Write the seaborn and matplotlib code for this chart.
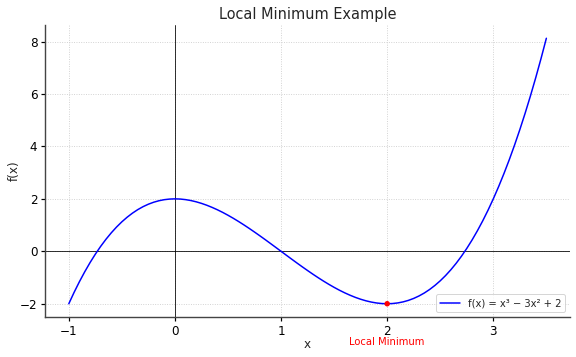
import matplotlib
matplotlib.use("Agg")
import matplotlib.pyplot as plt
import seaborn as sns
import pandas as pd

x_vals = [-1.0, -0.95, -0.9, -0.85, -0.8, -0.75, -0.7, -0.65, -0.6, -0.55,
          -0.5, -0.45, -0.4, -0.35, -0.3, -0.25, -0.2, -0.15, -0.1, -0.05,
          0.0, 0.05, 0.1, 0.15, 0.2, 0.25, 0.3, 0.35, 0.4, 0.45,
          0.5, 0.55, 0.6, 0.65, 0.7, 0.75, 0.8, 0.85, 0.9, 0.95,
          1.0, 1.05, 1.1, 1.15, 1.2, 1.25, 1.3, 1.35, 1.4, 1.45,
          1.5, 1.55, 1.6, 1.65, 1.7, 1.75, 1.8, 1.85, 1.9, 1.95,
          2.0, 2.05, 2.1, 2.15, 2.2, 2.25, 2.3, 2.35, 2.4, 2.45,
          2.5, 2.55, 2.6, 2.65, 2.7, 2.75, 2.8, 2.85, 2.9, 2.95,
          3.0, 3.05, 3.1, 3.15, 3.2, 3.25, 3.3, 3.35, 3.4, 3.45, 3.5]
y_vals = [-2.0, -1.565, -1.159, -0.782, -0.432, -0.109, 0.187, 0.458, 0.704, 0.926,
          1.125, 1.301, 1.456, 1.590, 1.703, 1.797, 1.872, 1.929, 1.969, 1.992,
          2.0, 1.993, 1.971, 1.936, 1.888, 1.828, 1.757, 1.675, 1.584, 1.484,
          1.375, 1.259, 1.136, 1.007, 0.873, 0.734, 0.592, 0.447, 0.299, 0.150,
          0.0, -0.150, -0.299, -0.447, -0.592, -0.734, -0.873, -1.007, -1.136, -1.259,
          -1.375, -1.484, -1.584, -1.675, -1.757, -1.828, -1.888, -1.936, -1.971, -1.993,
          -2.0, -1.992, -1.969, -1.929, -1.872, -1.797, -1.703, -1.590, -1.456, -1.301,
          -1.125, -0.926, -0.704, -0.458, -0.187, 0.109, 0.432, 0.782, 1.159, 1.565,
          2.0, 2.465, 2.961, 3.488, 4.048, 4.641, 5.267, 5.928, 6.624, 7.356, 8.125]
min_x = [2.0]
min_y = [-2.0]
curve_label = "f(x) = x³ − 3x² + 2"
min_label = "Local Minimum"

sns.set_theme(style="ticks")
plt.rcParams["font.family"] = ["DejaVu Sans"]

df = pd.DataFrame({"x": x_vals, "y": y_vals})
dmin = pd.DataFrame({"x": min_x, "y": min_y})

fig, ax = plt.subplots(figsize=(8, 357 / 72), dpi=72)
ax.grid(True, linestyle=":", color="#cccccc", linewidth=0.9)
ax.axhline(0, color="black", linewidth=0.8)
ax.axvline(0, color="black", linewidth=0.8)
sns.lineplot(data=df, x="x", y="y", color="blue", linewidth=1.5, label=curve_label,
             sort=False, ax=ax)
sns.scatterplot(data=dmin, x="x", y="y", color="red", s=30, edgecolor="none", zorder=5, ax=ax)
ax.text(min_x[0], min_y[0] - 1.45, min_label, color="red", ha="center", va="center",
        fontsize=10, clip_on=False)

ax.set_title("Local Minimum Example", fontsize=14.5)
ax.set_xlabel("x", fontsize=12, labelpad=0)
ax.set_ylabel("f(x)", fontsize=12, labelpad=-1)
ax.tick_params(labelsize=12, colors="black", width=1.2, length=4)
for s in ["left", "bottom"]:
    ax.spines[s].set_color("#444444")
    ax.spines[s].set_linewidth(1.4)
sns.despine(ax=ax)
ax.legend(loc="lower right", fontsize=10)

fig.subplots_adjust(left=0.078, right=0.99, top=0.93, bottom=0.112)
fig.savefig("out.png", dpi=72)
